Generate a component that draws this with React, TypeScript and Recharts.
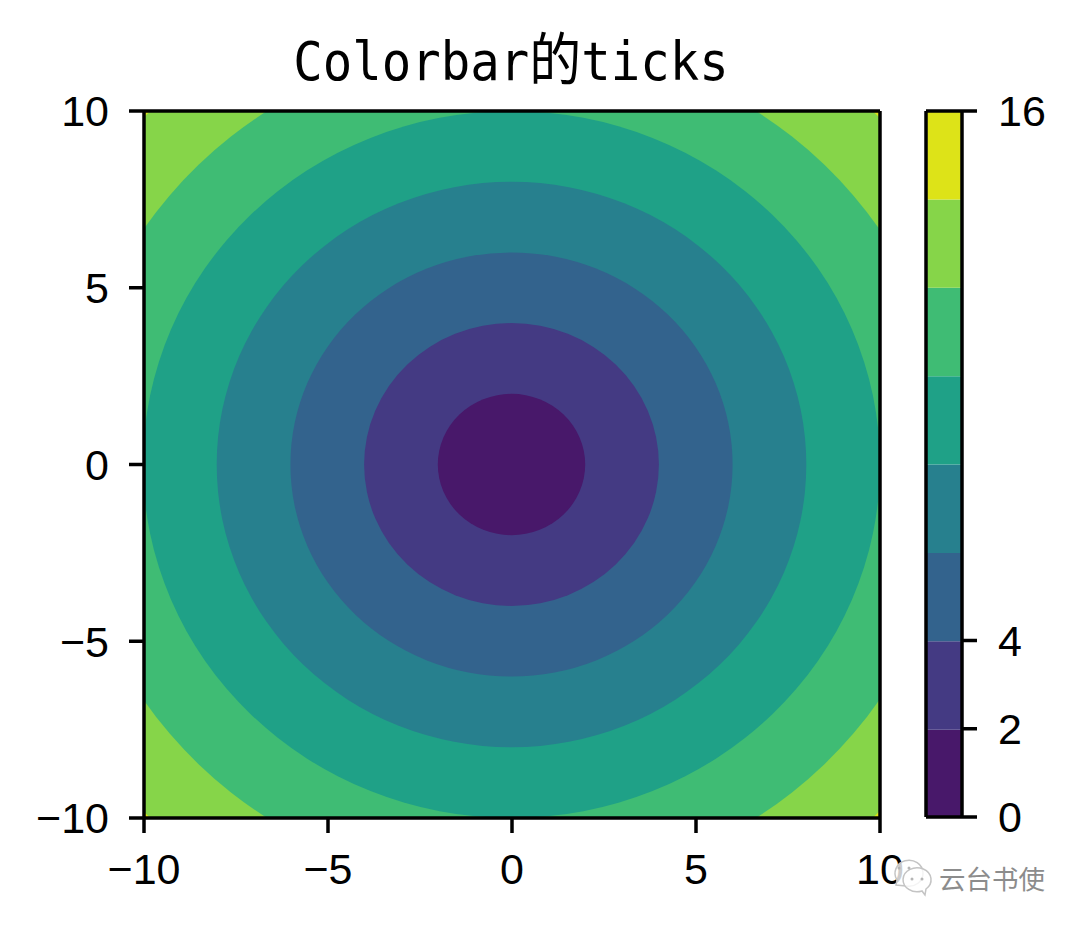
import React from 'react'
import { Bar, BarChart, Scatter, ScatterChart, XAxis, YAxis } from 'recharts'

const WIDTH = 1080
const HEIGHT = 928

const levels = [2, 4, 6, 8, 10, 12, 14, 16]
const levelColors = ['#48186a', '#443a83', '#33638d', '#27808e', '#1fa187', '#3fbc74', '#86d549', '#dde318']
const axisTicks = [-10, -5, 0, 5, 10]
const colorbarTicks = [0, 2, 4, 16]

const TICK_FONT = { fontSize: 43, fill: '#000', fontFamily: 'Liberation Sans' }
const FRAME = { stroke: '#000', strokeWidth: 3.5 }

const main = { left: 143, right: 880, top: 111, bottom: 818 }
const bar = { left: 926, right: 961 }

const unitX = (main.right - main.left) / 20
const unitY = (main.bottom - main.top) / 20

// biggest disc first, the smaller ones paint over it
const discs = levels
  .map((r, i) => ({ x: 0, y: 0, r, color: levelColors[i] }))
  .reverse()

const bands: Record<string, string | number> = { name: 'colorbar' }
levels.forEach((r, i) => {
  bands['band' + i] = r - (i === 0 ? 0 : levels[i - 1])
})

const formatTick = (v: number) => String(v).replace('-', '\u2212')

const layer: React.CSSProperties = { position: 'absolute', left: 0, top: 0 }

function Disc(props: any) {
  const { cx, cy, payload } = props
  return (
    <ellipse
      cx={cx}
      cy={cy}
      rx={payload.r * unitX}
      ry={payload.r * unitY}
      fill={payload.color}
      clipPath="url(#plot-clip)"
    />
  )
}

// axes only draw ticks when a series is bound to them
const NoMark = () => <g />

function Watermark() {
  return (
    <g>
      <g fill="#fff" fillOpacity={0.8} stroke="#c4c4c4" strokeWidth={1.5}>
        <path d="M896 885 L897 880 A14 13 0 1 1 906 886 Z" />
        <path d="M925 895 L922 891 A14 12 0 1 1 926 889 Z" />
      </g>
      <g fill="#b5b5b5">
        <circle cx={899} cy={868} r={1.5} />
        <circle cx={909} cy={868} r={1.5} />
        <circle cx={912} cy={879} r={1.5} />
        <circle cx={922} cy={879} r={1.5} />
      </g>
      <text x={939} y={889} fontSize={26.5} fill="#8c8c8c" fontFamily="Noto Sans CJK SC">
        云台书使
      </text>
    </g>
  )
}

export default function App() {
  return (
    <div style={{ position: 'absolute', left: 0, top: 0, width: WIDTH, height: HEIGHT, background: '#fff' }}>
      {/* marks first, the axes go in their own chart on top so the frame is not painted over */}
      <div style={layer}>
        <ScatterChart
          width={WIDTH}
          height={HEIGHT}
          margin={{ left: main.left, right: WIDTH - main.right, top: main.top, bottom: HEIGHT - main.bottom }}
        >
          <defs>
            <clipPath id="plot-clip">
              <rect x={main.left} y={main.top} width={main.right - main.left} height={main.bottom - main.top} />
            </clipPath>
          </defs>
          <XAxis hide type="number" dataKey="x" domain={[-10, 10]} />
          <YAxis hide type="number" dataKey="y" domain={[-10, 10]} />
          <Scatter data={discs} shape={Disc} isAnimationActive={false} />
        </ScatterChart>
      </div>
      <div style={layer}>
        <BarChart
          width={WIDTH}
          height={HEIGHT}
          data={[bands]}
          barCategoryGap={0}
          margin={{ left: bar.left, right: WIDTH - bar.right, top: main.top, bottom: HEIGHT - main.bottom }}
        >
          <XAxis hide dataKey="name" />
          <YAxis hide domain={[0, 16]} />
          {levels.map((_, i) => (
            <Bar key={i} dataKey={'band' + i} stackId="cb" fill={levelColors[i]} isAnimationActive={false} />
          ))}
        </BarChart>
      </div>
      <div style={layer}>
        <ScatterChart
          width={WIDTH}
          height={HEIGHT}
          margin={{ left: 64, right: WIDTH - main.right - 1, top: main.top - 1, bottom: 40 }}
        >
          <XAxis
            type="number"
            dataKey="x"
            domain={[-10, 10]}
            ticks={axisTicks}
            interval={0}
            height={70}
            tickSize={15}
            tickMargin={20}
            tick={TICK_FONT}
            tickFormatter={formatTick}
            axisLine={FRAME}
            tickLine={FRAME}
          />
          <XAxis xAxisId="top" orientation="top" type="number" domain={[-10, 10]} height={1} tick={false} tickLine={false} axisLine={FRAME} />
          <YAxis
            type="number"
            dataKey="y"
            domain={[-10, 10]}
            ticks={axisTicks}
            interval={0}
            width={80}
            tickSize={15}
            tickMargin={20}
            tick={TICK_FONT}
            tickFormatter={formatTick}
            axisLine={FRAME}
            tickLine={FRAME}
          />
          <YAxis yAxisId="right" orientation="right" type="number" domain={[-10, 10]} width={1} tick={false} tickLine={false} axisLine={FRAME} />
          <Scatter data={discs} shape={NoMark} isAnimationActive={false} />
          <text
            transform="translate(511 80) scale(1 1.1)"
            textAnchor="middle"
            fill="#000"
            fontSize={49}
            fontFamily="DejaVu Sans Mono"
          >
            Colorbar
            <tspan fontFamily="Noto Sans CJK SC" fontSize={52}>的</tspan>
            ticks
          </text>
        </ScatterChart>
      </div>
      <div style={layer}>
        <BarChart
          width={WIDTH}
          height={HEIGHT}
          data={[bands]}
          margin={{ left: bar.left - 1, right: 37, top: main.top - 1, bottom: HEIGHT - main.bottom }}
        >
          <XAxis dataKey="name" height={1} tick={false} tickLine={false} axisLine={FRAME} />
          <XAxis xAxisId="top" orientation="top" dataKey="name" height={1} tick={false} tickLine={false} axisLine={FRAME} />
          <YAxis yAxisId="left" width={1} domain={[0, 16]} tick={false} tickLine={false} axisLine={FRAME} />
          <YAxis
            orientation="right"
            domain={[0, 16]}
            ticks={colorbarTicks}
            interval={0}
            width={81}
            tickSize={15}
            tickMargin={21}
            tick={TICK_FONT}
            axisLine={FRAME}
            tickLine={FRAME}
          />
          <Bar dataKey="band0" fill="none" isAnimationActive={false} />
          <Watermark />
        </BarChart>
      </div>
    </div>
  )
}
